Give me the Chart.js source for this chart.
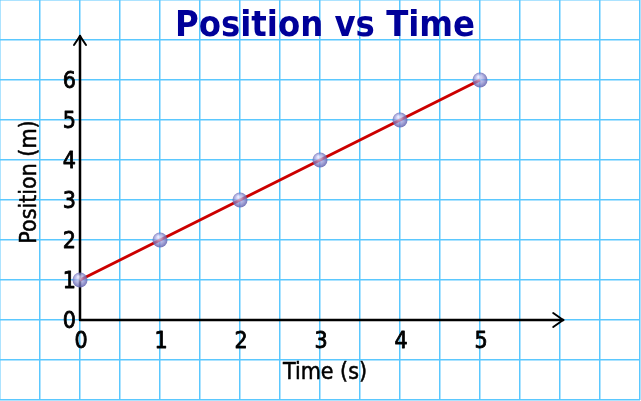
<!DOCTYPE html>
<html>
<head>
<meta charset="utf-8">
<script src="https://cdn.jsdelivr.net/npm/chart.js@4.4.1/dist/chart.umd.min.js"></script>
<style>
  html, body { margin: 0; padding: 0; background: #fff; overflow: hidden; }
  #wrap { position: relative; width: 641px; height: 401px; }
</style>
</head>
<body>
<div id="wrap"><canvas id="chart"></canvas></div>
<script>
// data
var times = [0, 1, 2, 3, 4, 5];
var positions = [1, 2, 3, 4, 5, 6];
var xTickLabels = ['0', '1', '2', '3', '4', '5'];
var yTickLabels = ['0', '1', '2', '3', '4', '5', '6'];
var chartTitle = 'Position vs Time';
var xTitle = 'Time (s)';
var yTitle = 'Position (m)';

var FONT = '"DejaVu Sans Condensed", "DejaVu Sans", sans-serif';
var GRID = '#5ac8ff';

// little shaded ball used as the point marker
function makeBall(r) {
  var c = document.createElement('canvas');
  c.width = c.height = 2 * r;
  var g = c.getContext('2d');
  var grad = g.createRadialGradient(r * 0.8, r * 0.6, r * 0.1, r, r, r);
  grad.addColorStop(0, 'rgba(230,230,255,0.85)');
  grad.addColorStop(0.5, 'rgba(150,150,215,0.7)');
  grad.addColorStop(1, 'rgba(85,85,165,0.85)');
  g.fillStyle = grad;
  g.beginPath();
  g.arc(r, r, r - 0.5, 0, Math.PI * 2);
  g.fill();
  return c;
}

var axesPlugin = {
  id: 'axesPlugin',
  beforeDatasetsDraw: function (chart) {
    var ctx = chart.ctx;
    var xs = chart.scales.x, ys = chart.scales.y;
    var x0 = xs.getPixelForValue(0), y0 = ys.getPixelForValue(0);
    var xEnd = xs.getPixelForValue(6.04), yEnd = ys.getPixelForValue(7.1);
    ctx.save();
    ctx.strokeStyle = '#000';
    ctx.lineWidth = 2.5;
    ctx.lineCap = 'round';
    ctx.lineJoin = 'round';
    // axis lines
    ctx.beginPath();
    ctx.moveTo(x0, y0);
    ctx.lineTo(xEnd, y0);
    ctx.moveTo(x0, y0);
    ctx.lineTo(x0, yEnd);
    ctx.stroke();
    // arrow heads
    ctx.lineWidth = 2;
    ctx.beginPath();
    ctx.moveTo(xEnd - 10, y0 - 7);
    ctx.lineTo(xEnd, y0);
    ctx.lineTo(xEnd - 10, y0 + 7);
    ctx.moveTo(x0 - 6, yEnd + 9);
    ctx.lineTo(x0, yEnd);
    ctx.lineTo(x0 + 6, yEnd + 9);
    ctx.stroke();

    // tick labels
    ctx.fillStyle = '#000';
    ctx.strokeStyle = '#000';
    ctx.lineWidth = 0.8;
    ctx.font = '23px ' + FONT;
    ctx.textAlign = 'center';
    ctx.textBaseline = 'alphabetic';
    xTickLabels.forEach(function (t) {
      var px = xs.getPixelForValue(Number(t)) + 1;
      ctx.fillText(t, px, y0 + 28);
      ctx.strokeText(t, px, y0 + 28);
    });
    ctx.textAlign = 'right';
    yTickLabels.forEach(function (t) {
      var py = ys.getPixelForValue(Number(t)) + 8;
      ctx.fillText(t, x0 - 4, py);
      ctx.strokeText(t, x0 - 4, py);
    });

    // axis titles
    ctx.lineWidth = 0.5;
    ctx.textAlign = 'center';
    ctx.fillText(xTitle, 325, 379);
    ctx.strokeText(xTitle, 325, 379);
    ctx.save();
    ctx.translate(36, 182);
    ctx.rotate(-Math.PI / 2);
    ctx.fillText(yTitle, 0, 0);
    ctx.strokeText(yTitle, 0, 0);
    ctx.restore();
    ctx.restore();
  },
  afterDraw: function (chart) {
    var ctx = chart.ctx;
    ctx.save();
    ctx.fillStyle = '#000099';
    ctx.font = 'bold 36px ' + FONT;
    ctx.textAlign = 'center';
    ctx.textBaseline = 'alphabetic';
    ctx.fillText(chartTitle, 325, 36);
    ctx.restore();
  }
};

var points = times.map(function (t, i) {
  return { x: t, y: positions[i] };
});

var chart = new Chart(document.getElementById('chart'), {
  type: 'line',
  data: {
    datasets: [{
      data: points,
      borderColor: '#cc0000',
      borderWidth: 3,
      tension: 0,
      pointStyle: makeBall(8),
      pointRadius: 8,
      pointHoverRadius: 8
    }]
  },
  options: {
    responsive: true,
    maintainAspectRatio: false,
    animation: false,
    layout: { autoPadding: false, padding: { top: 0, left: 0, right: 1, bottom: 1 } },
    plugins: {
      legend: { display: false },
      title: { display: false },
      tooltip: { enabled: false }
    },
    scales: {
      x: {
        type: 'linear',
        min: -1,
        max: 7,
        ticks: { display: false, stepSize: 0.5 },
        grid: { color: GRID, lineWidth: 1.5, drawTicks: false },
        border: { display: false }
      },
      y: {
        type: 'linear',
        min: -2,
        max: 8,
        ticks: { display: false, stepSize: 1 },
        grid: { color: GRID, lineWidth: 1.5, drawTicks: false },
        border: { display: false }
      }
    }
  },
  plugins: [axesPlugin]
});
</script>
</body>
</html>
